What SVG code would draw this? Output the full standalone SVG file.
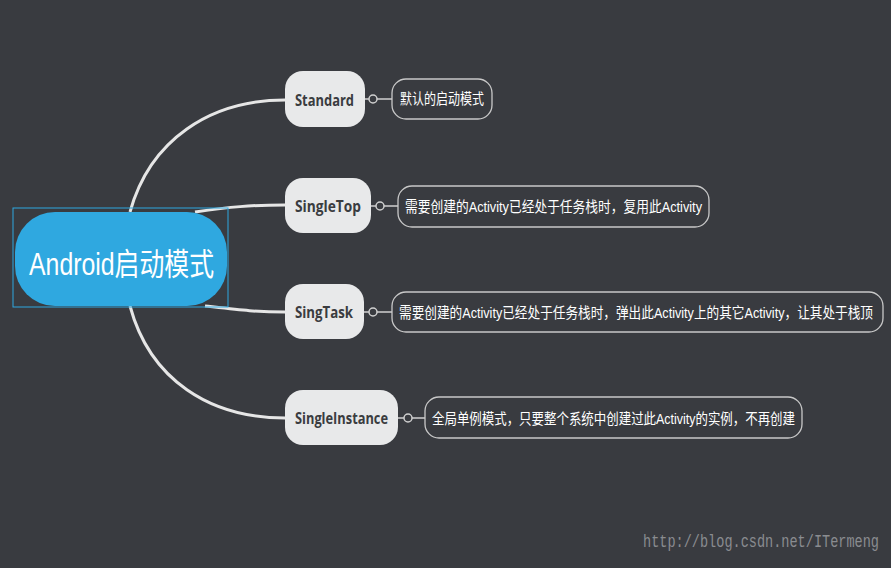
<svg xmlns="http://www.w3.org/2000/svg" width="891" height="568" viewBox="0 0 891 568">
<style>
.br{fill:#e8e9ea}
.bt{font-family:"Open Sans","Liberation Sans",sans-serif;font-weight:bold;font-size:16px;fill:#3a3c40}
.lf{fill:none;stroke:#c8c8c8;stroke-width:1.3}
.lt{font-family:"Liberation Sans","Noto Sans CJK SC",sans-serif;font-size:15px;fill:#fff}
.cn{fill:none;stroke:#e6e6e6;stroke-width:3}
.sm{fill:none;stroke:#d0d0d0;stroke-width:1.5}
</style>
<rect width="891" height="568" fill="#393b40"/>
<g id="connectors">
<path class="cn" d="M130 212 C150 140 210 100 285 100"/>
<path class="cn" d="M195 212 C230 207 250 205 285 205"/>
<path class="cn" d="M205 306 C240 310 255 312 285 312"/>
<path class="cn" d="M130 306 C150 380 210 418 285 418"/>
<g class="sm">
<line x1="365" y1="99" x2="369" y2="99"/><circle cx="373" cy="99" r="4"/><line x1="377" y1="99" x2="392" y2="99"/>
<line x1="371" y1="206" x2="376" y2="206"/><circle cx="380" cy="206" r="4"/><line x1="384" y1="206" x2="398" y2="206"/>
<line x1="364" y1="312" x2="369" y2="312"/><circle cx="373" cy="312" r="4"/><line x1="377" y1="312" x2="392" y2="312"/>
<line x1="398" y1="418" x2="404" y2="418"/><circle cx="408" cy="418" r="4"/><line x1="412" y1="418" x2="425" y2="418"/>
</g>
</g>
<g id="root">
<rect x="13" y="208" width="215" height="99" fill="none" stroke="#2fa8e0" stroke-width="1"/>
<rect x="15" y="212" width="212" height="94" rx="40" fill="#2fa8e0"/>
<text x="29" y="275" font-family="Liberation Sans,Noto Sans CJK SC,sans-serif" font-size="31" fill="#fff" textLength="185" lengthAdjust="spacingAndGlyphs">Android启动模式</text>
</g>
<g id="standard"><rect class="br" x="285" y="71" width="80" height="56" rx="18"/><text class="bt" x="295" y="106" textLength="59" lengthAdjust="spacingAndGlyphs">Standard</text></g>
<g id="singletop"><rect class="br" x="285" y="178" width="86" height="55" rx="18"/><text class="bt" x="295" y="212" textLength="66" lengthAdjust="spacingAndGlyphs">SingleTop</text></g>
<g id="singtask"><rect class="br" x="285" y="284" width="79" height="55" rx="18"/><text class="bt" x="295" y="318" textLength="58" lengthAdjust="spacingAndGlyphs">SingTask</text></g>
<g id="singleinstance"><rect class="br" x="285" y="390" width="113" height="55" rx="18"/><text class="bt" x="295" y="424" textLength="93" lengthAdjust="spacingAndGlyphs">SingleInstance</text></g>
<g id="leaf1"><rect class="lf" x="392" y="79" width="100" height="40" rx="14"/><text class="lt" x="400" y="104" textLength="84" lengthAdjust="spacingAndGlyphs">默认的启动模式</text></g>
<g id="leaf2"><rect class="lf" x="398" y="186" width="311" height="41" rx="14"/><text class="lt" x="405" y="212" textLength="297" lengthAdjust="spacingAndGlyphs">需要创建的Activity已经处于任务栈时，复用此Activity</text></g>
<g id="leaf3"><rect class="lf" x="392" y="292" width="491" height="40" rx="14"/><text class="lt" x="399" y="318" textLength="474" lengthAdjust="spacingAndGlyphs">需要创建的Activity已经处于任务栈时，弹出此Activity上的其它Activity，让其处于栈顶</text></g>
<g id="leaf4"><rect class="lf" x="425" y="397" width="377" height="41" rx="14"/><text class="lt" x="432" y="424" textLength="363" lengthAdjust="spacingAndGlyphs">全局单例模式，只要整个系统中创建过此Activity的实例，不再创建</text></g>
<text x="643" y="547" font-family="Liberation Mono,monospace" font-size="18" fill="#8a8c90" textLength="236" lengthAdjust="spacingAndGlyphs">http://blog.csdn.net/ITermeng</text>
</svg>
